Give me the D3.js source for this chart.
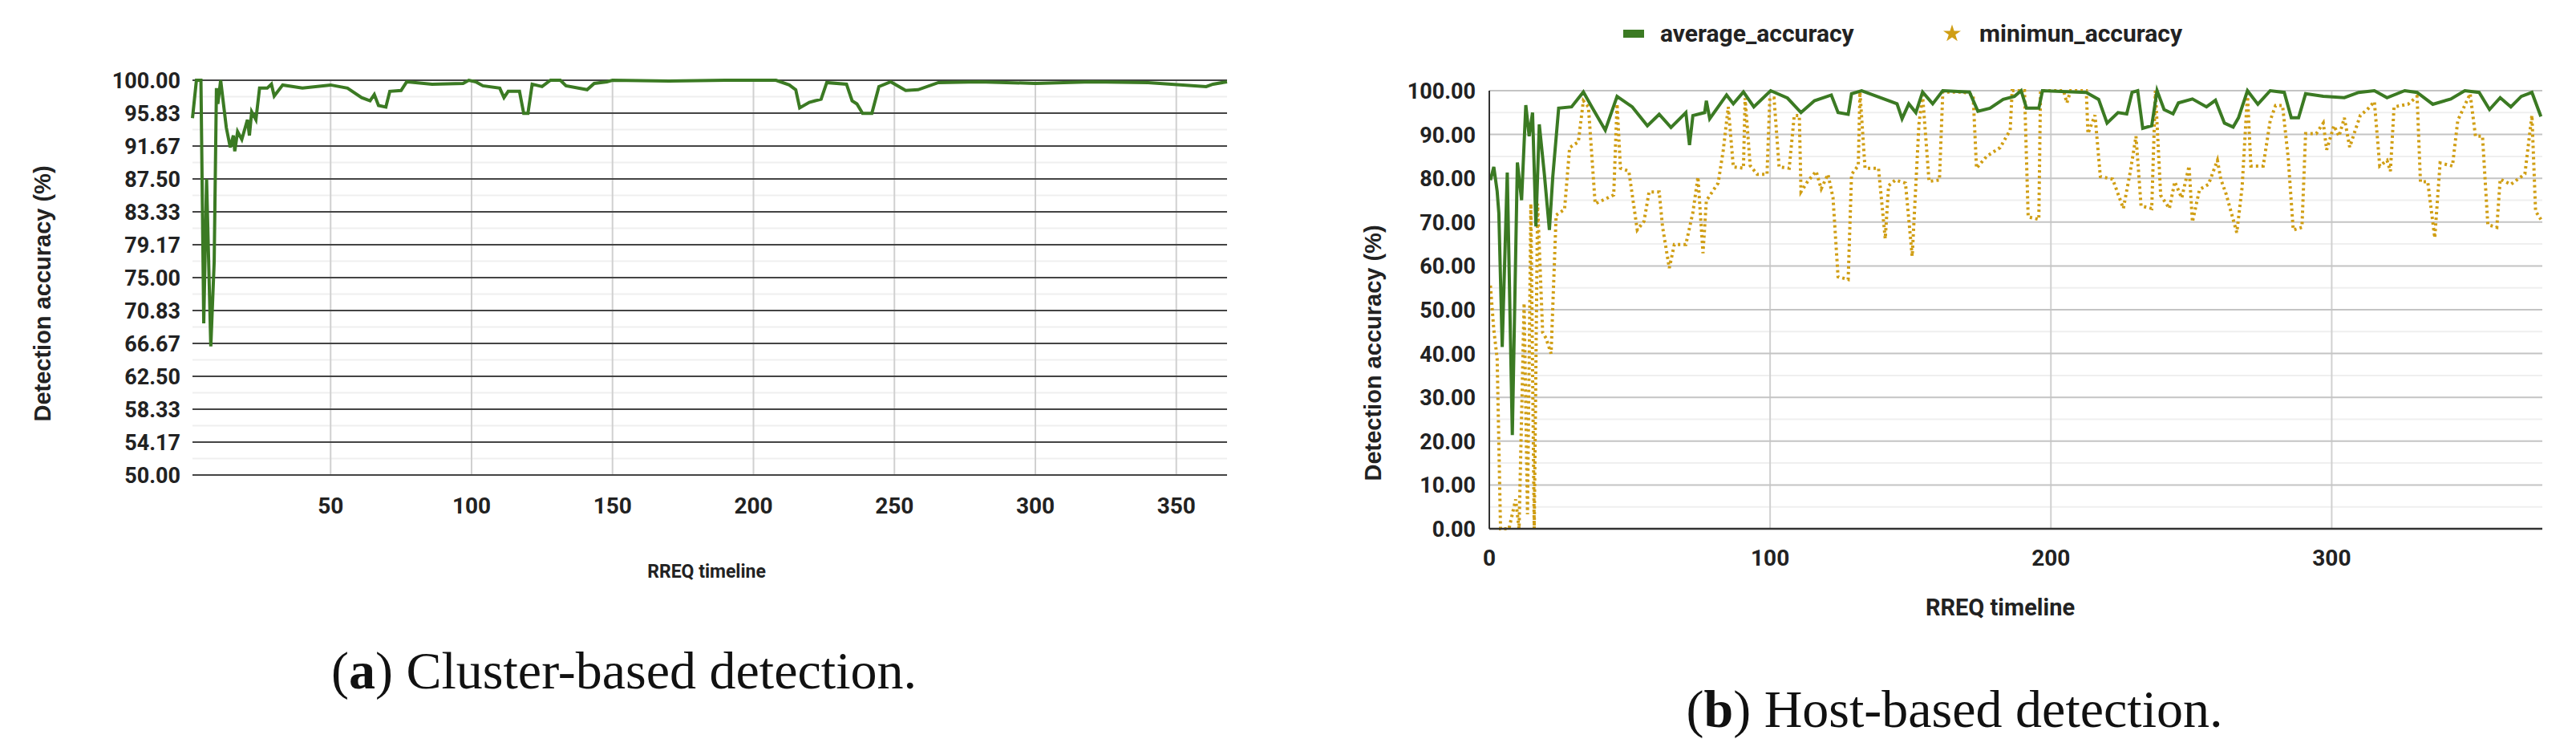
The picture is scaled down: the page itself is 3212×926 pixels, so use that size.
<!DOCTYPE html>
<html>
<head>
<meta charset="utf-8">
<script src="https://cdn.jsdelivr.net/npm/d3@7"></script>
<style>
  body { margin: 0; background: #fff; }
</style>
</head>
<body>
<svg id="chart" width="3212" height="926" font-family="Roboto, sans-serif"></svg>
<script>
// ---- data: cluster-based (a) ----
const clusterX = [1,2.4,4,5,6,7.5,8.7,9.5,10,11,13,14.4,15.5,16,17,18.5,20.5,21.2,22,23.5,24.8,27.5,29,30,33,40,50,56,61,64,65.5,67,69.6,71,75,77,86,97,99,101.5,104,110,111.5,113,117,118.5,120,121.5,125,128,131.5,133.5,141,143.5,148,150,170,190,208,212.7,215,216.4,219.8,224,226,233,235,236.7,238.7,242,244.5,248.7,254,258.4,265.6,280,300,320,340,360.6,363,368];
const clusterY = [95.2,100,100,69.2,87.5,66.3,77,99,97,100,94,91.5,93,91,93.5,92.5,95,93,96,95,99,99,99.5,98,99.4,99,99.4,99,97.8,97.4,98.2,96.8,96.6,98.6,98.7,99.8,99.5,99.6,100,99.8,99.3,99,97.8,98.6,98.6,95.8,95.8,99.5,99.2,100,100,99.3,98.8,99.6,99.8,100,99.9,100,100,99.4,98.8,96.5,97.2,97.6,99.7,99.5,97.4,97,95.8,95.8,99.2,99.8,98.7,98.8,99.7,99.8,99.6,99.8,99.7,99.2,99.5,99.8];
const clusterTicksY = [50.00,54.17,58.33,62.50,66.67,70.83,75.00,79.17,83.33,87.50,91.67,95.83,100.00];
const clusterTicksX = [50,100,150,200,250,300,350];

// ---- data: host-based (b) ----
const avgX = [0.4,1.6,2.8,3.4,4.6,6.4,8.2,10,11.5,13,14.2,15.4,16.6,17.8,19.6,21.4,22.6,24.7,29.3,33.5,36.5,41.3,45.5,50.9,56.3,60.5,64.7,70,71.3,72.5,76.7,77.3,78.5,84.5,86.9,90.5,94.2,100.2,106.2,111,115.8,121.8,124.2,127.8,129,132.6,139.8,145.2,147,149.4,151.9,154.3,157.9,161.5,171,174,178.3,183,187,189.4,191.3,195.7,197,212.6,217,220,223.9,227,228.9,230.9,232.7,235.9,237.8,240.3,243.5,245.4,250.4,255.4,258.6,261.8,264.9,266.8,270,273.7,278.1,283.1,285.6,288.2,290.7,297,304.5,309.6,315.2,319.7,326,330.4,336,342.4,347.4,352.5,356.2,360,363.8,367.5,371.3,374.5];
const avgY = [79.6,82.6,77,72,41.5,81.3,21.4,83.6,75,96.7,89.6,95,69,92.3,81,68.2,80.3,96,96.3,99.7,96.3,91,98.7,96.3,92,94.6,91.6,95,87.6,94.3,95,97.7,93.6,99,97,99.7,96.3,100,98.3,95,97.7,99,95,94.6,99.3,100,98.3,97,93.6,97,95,99.7,97,100,99.7,95.3,96,98,98.7,100,96,96,100,99.6,98,92.6,95,94.7,99.6,100,91.4,92,100,95.7,94.7,97.2,98.1,96.3,97.8,92.6,91.7,93.8,100,96.9,100,99.6,93.8,93.8,99.3,98.7,98.4,99.6,100,98.4,100,99.6,96.9,98.1,100,99.6,95.7,98.4,96.3,98.7,99.6,94.1];
const minX = [0.4,1.6,2.8,4,7,9.4,10.6,12.4,13.6,14.8,16,17.2,19,20.2,22,23.8,26.8,28.6,31.7,33.5,35.3,37.7,40.1,44.3,45.5,46.7,49.7,52.7,55.1,56.9,60.5,61.7,64.1,65.9,70,72.5,74.3,76.1,77.3,81.5,83.3,85.1,86.9,90.5,91.1,92.9,95.4,98.9,99.9,101.4,103.2,106.8,108.6,110.4,111,113.4,116.4,118.2,120.6,122.4,124.2,127.8,129,131.4,132,133.8,138.6,139.8,141,142.2,144.6,148.2,150.6,153,154.3,156.6,160.3,161.5,168.7,172.3,173.5,177.1,181.9,185.5,186.2,190.6,191.9,195.7,196.3,204.5,205.7,207,212.6,213.2,215.7,217.6,222,225.8,228.3,230.3,232.1,235.9,237.2,239.1,242.2,244.1,246.6,249.2,250.4,252.9,256.1,259.3,260.5,262.4,266.2,268.1,270,271.2,275.6,278.1,280,282.5,284.5,286.3,289.4,290.7,294.5,297,298.2,300.8,302.6,304.5,306.4,308.3,310.2,312.7,315.2,317.1,319.7,320.9,322.2,327.2,330.4,331.6,334.2,336.7,338.6,343,344.9,349.3,351.2,353.7,355.6,358.8,360,363.8,368.8,371.3,372.6,374.5];
const minY = [55.5,45.5,38.8,0,0,6.7,0,51.5,3.3,74.2,0,74.2,44.8,43.5,40,71.6,72.9,87,88.3,97.7,96.3,74.2,74.9,76.2,97,82.3,81.6,68.2,70.2,76.9,76.9,68.9,59.5,64.9,64.9,72.2,80.3,62.9,74.9,78.9,86.3,96.3,82.6,82.3,98.3,82.9,80.9,80.9,98.3,98.3,82.6,82.3,94.3,94.3,76.9,79.3,81.6,77.6,80.9,75.6,57.5,56.9,80.9,82.9,99.7,82.3,82.3,74.2,66.2,78.3,79.6,78.9,62.2,92.3,99,79.3,79.6,99.7,99.7,99,82.3,85,87,91,100,100,71.2,70.6,100,100,97.2,100,100,90.2,94.4,80.4,79.8,73.1,81.6,89.6,73.7,73.1,100,76.1,73.1,79.2,75.5,82.8,70,77.4,78.6,84.1,79.8,76.4,67.6,78,99.3,82.8,82.8,93.2,96.6,96.6,84.7,68.2,68.8,90.2,90.2,92.6,86.5,92,89.6,93.8,87.1,90.8,94.4,95.7,97.5,82.8,84.1,81.6,96.3,96.9,98.7,79.2,79.2,66.4,83.5,82.8,93.2,99.3,89.6,89.6,69.4,68.8,79.8,78.6,81,94.4,72.5,70.6];
const hostTicksY = [0,10,20,30,40,50,60,70,80,90,100];
const hostTicksX = [0,100,200,300];
const seriesNames = ["average_accuracy", "minimun_accuracy"];

const GREEN = "#3b7a23", GOLD = "#d09e14";
const svg = d3.select("#chart");

// ---------- chart (a) ----------
const xa = d3.scaleLinear().domain([1, 368]).range([240, 1530]);
const ya = d3.scaleLinear().domain([50, 100]).range([592, 100]);
const ga = svg.append("g");

// minor horizontal lines between labelled ones
d3.pairs(clusterTicksY).forEach(([a, b]) => {
  ga.append("line").attr("x1", xa.range()[0]).attr("x2", xa.range()[1])
    .attr("y1", ya((a + b) / 2)).attr("y2", ya((a + b) / 2))
    .attr("stroke", "#efefef").attr("stroke-width", 2);
});
ga.selectAll(".vg").data(clusterTicksX).join("line")
  .attr("x1", d => xa(d)).attr("x2", d => xa(d)).attr("y1", 100).attr("y2", 592)
  .attr("stroke", "#d0d0d0").attr("stroke-width", 2);
ga.selectAll(".hg").data(clusterTicksY).join("line")
  .attr("x1", xa.range()[0]).attr("x2", xa.range()[1])
  .attr("y1", d => ya(d)).attr("y2", d => ya(d))
  .attr("stroke", "#444").attr("stroke-width", 2);
ga.selectAll(".yl").data(clusterTicksY).join("text")
  .attr("x", 225).attr("y", d => ya(d) + 10).attr("text-anchor", "end")
  .attr("font-size", 27).attr("font-weight", 700).attr("fill", "#222")
  .text(d => d.toFixed(2));
ga.selectAll(".xl").data(clusterTicksX).join("text")
  .attr("x", d => xa(d)).attr("y", 640).attr("text-anchor", "middle")
  .attr("font-size", 28).attr("font-weight", 700).attr("fill", "#222")
  .text(d => d);
ga.append("path")
  .datum(d3.zip(clusterX, clusterY))
  .attr("fill", "none").attr("stroke", GREEN).attr("stroke-width", 4)
  .attr("d", d3.line().x(d => xa(d[0])).y(d => ya(d[1])));
ga.append("text").attr("x", 881).attr("y", 720).attr("text-anchor", "middle")
  .attr("font-size", 23).attr("font-weight", 700).attr("fill", "#222").text("RREQ timeline");
ga.append("text").attr("transform", "translate(63,366) rotate(-90)").attr("text-anchor", "middle")
  .attr("font-family", "Liberation Sans").attr("font-size", 29).attr("font-weight", 700)
  .attr("fill", "#222").text("Detection accuracy (%)");

// ---------- chart (b) ----------
const xb = d3.scaleLinear().domain([0, 375]).range([1857, 3170]);
const yb = d3.scaleLinear().domain([0, 100]).range([659, 113]);
const gb = svg.append("g");

d3.pairs(hostTicksY).forEach(([a, b]) => {
  gb.append("line").attr("x1", xb.range()[0]).attr("x2", xb.range()[1])
    .attr("y1", yb((a + b) / 2)).attr("y2", yb((a + b) / 2))
    .attr("stroke", "#efefef").attr("stroke-width", 2);
});
gb.selectAll(".vg").data(hostTicksX.slice(1)).join("line")
  .attr("x1", d => xb(d)).attr("x2", d => xb(d)).attr("y1", 113).attr("y2", 659)
  .attr("stroke", "#d0d0d0").attr("stroke-width", 2);
gb.selectAll(".hg").data(hostTicksY.slice(1)).join("line")
  .attr("x1", xb.range()[0]).attr("x2", xb.range()[1])
  .attr("y1", d => yb(d)).attr("y2", d => yb(d))
  .attr("stroke", "#c4c4c4").attr("stroke-width", 2);
gb.selectAll(".yl").data(hostTicksY).join("text")
  .attr("x", 1840).attr("y", d => yb(d) + 10).attr("text-anchor", "end")
  .attr("font-size", 27).attr("font-weight", 700).attr("fill", "#222")
  .text(d => d.toFixed(2));
gb.selectAll(".xl").data(hostTicksX).join("text")
  .attr("x", d => xb(d)).attr("y", 705).attr("text-anchor", "middle")
  .attr("font-size", 28).attr("font-weight", 700).attr("fill", "#222")
  .text(d => d);
gb.append("path")
  .datum(d3.zip(minX, minY))
  .attr("fill", "none").attr("stroke", GOLD).attr("stroke-width", 4)
  .attr("stroke-dasharray", "3,4")
  .attr("d", d3.line().x(d => xb(d[0])).y(d => yb(d[1])));
gb.append("path")
  .datum(d3.zip(avgX, avgY))
  .attr("fill", "none").attr("stroke", GREEN).attr("stroke-width", 4)
  .attr("d", d3.line().x(d => xb(d[0])).y(d => yb(d[1])));
// axis lines
gb.append("line").attr("x1", 1857).attr("x2", 1857).attr("y1", 113).attr("y2", 659)
  .attr("stroke", "#333").attr("stroke-width", 2);
gb.append("line").attr("x1", 1857).attr("x2", 3170).attr("y1", 659).attr("y2", 659)
  .attr("stroke", "#333").attr("stroke-width", 2.5);
gb.append("text").attr("x", 2494).attr("y", 767).attr("text-anchor", "middle")
  .attr("font-size", 29).attr("font-weight", 700).attr("fill", "#222").text("RREQ timeline");
gb.append("text").attr("transform", "translate(1722,440) rotate(-90)").attr("text-anchor", "middle")
  .attr("font-family", "Liberation Sans").attr("font-size", 29).attr("font-weight", 700)
  .attr("fill", "#222").text("Detection accuracy (%)");

// legend
const lg = svg.append("g").attr("transform", "translate(2024,42)");
lg.append("rect").attr("x", 0).attr("y", -5).attr("width", 26).attr("height", 10).attr("fill", GREEN);
lg.append("text").attr("x", 46).attr("y", 10).attr("font-size", 30).attr("font-weight", 700)
  .attr("fill", "#222").text(seriesNames[0]);
lg.append("path").attr("transform", "translate(410,0)")
  .attr("d", d3.symbol(d3.symbolStar, 150)()).attr("fill", GOLD);
lg.append("text").attr("x", 444).attr("y", 10).attr("font-size", 30).attr("font-weight", 700)
  .attr("fill", "#222").text(seriesNames[1]);

// captions
function caption(x, y, letter, rest) {
  const t = svg.append("text").attr("x", x).attr("y", y).attr("text-anchor", "middle")
    .attr("font-family", "'Liberation Serif', serif").attr("font-size", 66).attr("fill", "#111");
  t.append("tspan").text("(");
  t.append("tspan").attr("font-weight", 700).text(letter);
  t.append("tspan").text(") " + rest);
}
caption(778, 858, "a", "Cluster-based detection.");
caption(2437, 906, "b", "Host-based detection.");
</script>
</body>
</html>
